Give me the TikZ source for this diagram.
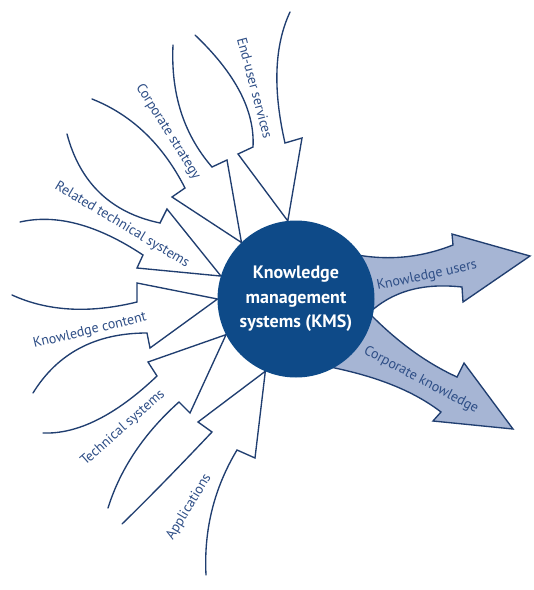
\documentclass[tikz,border=0pt]{standalone}
\usepackage{fontspec}
\setmainfont{PT Sans}
\definecolor{navy}{RGB}{32,62,112}
\definecolor{kmsblue}{RGB}{14,74,136}
\definecolor{paleblue}{RGB}{166,181,212}
\definecolor{labblue}{RGB}{46,78,134}
\pgfdeclarelayer{paper}
\pgfdeclarelayer{bg}
\pgfsetlayers{paper,bg,main}
\begin{document}
\begin{tikzpicture}[x=1pt,y=-1pt,
  edge/.style={draw=navy, line width=1.35pt, line join=miter, line cap=round},
  outarrow/.style={edge, fill=paleblue},
  lab/.style={text=labblue, font=\fontsize{14}{16}\selectfont, inner sep=0pt},
  kmsnode/.style={circle, fill=kmsblue, minimum size=157pt, inner sep=0pt, outer sep=0pt,
    text=white, align=center, font=\bfseries\fontsize{18}{24.5}\selectfont}]
\begin{pgfonlayer}{paper}
\fill[white] (0,0) rectangle (534,590);
\end{pgfonlayer}
\useasboundingbox (0,0) rectangle (534,590);
\node[kmsnode] (kms) at (296,299) {Knowledge\\management\\systems (KMS)};
\begin{pgfonlayer}{bg}
% End-user services
\draw[edge] (195,35) .. controls (235.7,73.7) and (255,111) .. (253,147) -- (238,154) -- (kms.96.5)
  -- (302,138) -- (285,143) .. controls (272.7,89.3) and (274.3,45.7) .. (290,12);
% Corporate strategy
\draw[edge] (92,99) .. controls (131.7,114.7) and (162.7,144.3) .. (185,188) -- (172,197) -- (kms.134)
  -- (227,160) -- (212,167) .. controls (183.7,134.3) and (170.7,93.7) .. (173,45);
% Related technical systems
\draw[edge] (67,134) .. controls (80,183) and (111,212.7) .. (160,223) -- (167,209) -- (kms.163.5)
  -- (137,268) -- (143,255) .. controls (97.3,224.7) and (56.3,213.7) .. (20,222);
% Knowledge content
\draw[edge] (12,295) .. controls (47.7,311.3) and (89.3,313.7) .. (137,302) -- (137,283) -- (kms.180)
  -- (150,348) -- (147,333) .. controls (95.7,333) and (57.7,353) .. (33,393);
% Technical systems
\draw[edge] (43,433) .. controls (77.7,434.3) and (115.7,415.3) .. (157,376) -- (148,362) -- (kms.207.5)
  -- (190,413) -- (179,402) .. controls (144,433.3) and (120.3,468.7) .. (108,508);
% Applications
\draw[edge] (122,524) .. controls (146.7,500) and (176.7,469.3) .. (212,432) -- (198,422) -- (kms.247)
  -- (255,458) -- (237,450) .. controls (214,488.3) and (203.7,530) .. (206,575);
% Corporate knowledge
\draw[outarrow] (368,312) .. controls (396,340.7) and (425,362.3) .. (457,377) -- (464,363) -- (513,429)
  -- (433,421) -- (441,412) .. controls (414,391.3) and (378,376.7) .. (330,367) -- cycle;
% Knowledge users
\draw[outarrow] (352,254) .. controls (387.3,261) and (420,258) .. (453,245) -- (452,234) -- (530,256)
  -- (463,302) -- (462,287) .. controls (422.3,282.7) and (391.7,291.3) .. (368,314) -- cycle;
\end{pgfonlayer}
% labels
\node[lab, rotate=-75] (l1) at (255,88) {End-user services};
\node[lab, rotate=-58] (l2) at (168,132) {Corporate strategy};
\node[lab, rotate=-31] (l3) at (122,225) {Related technical systems};
\node[lab, rotate=13.5] (l4) at (90,331) {Knowledge content};
\node[lab, rotate=41.5] (l5) at (123,428) {Technical systems};
\node[lab, rotate=58.7] (l6) at (189,507) {Applications};
\node[lab, rotate=12] (l7) at (427,276) {Knowledge users};
\node[lab, rotate=-28] (l8) at (421,380) {Corporate knowledge};
\end{tikzpicture}
\end{document}
